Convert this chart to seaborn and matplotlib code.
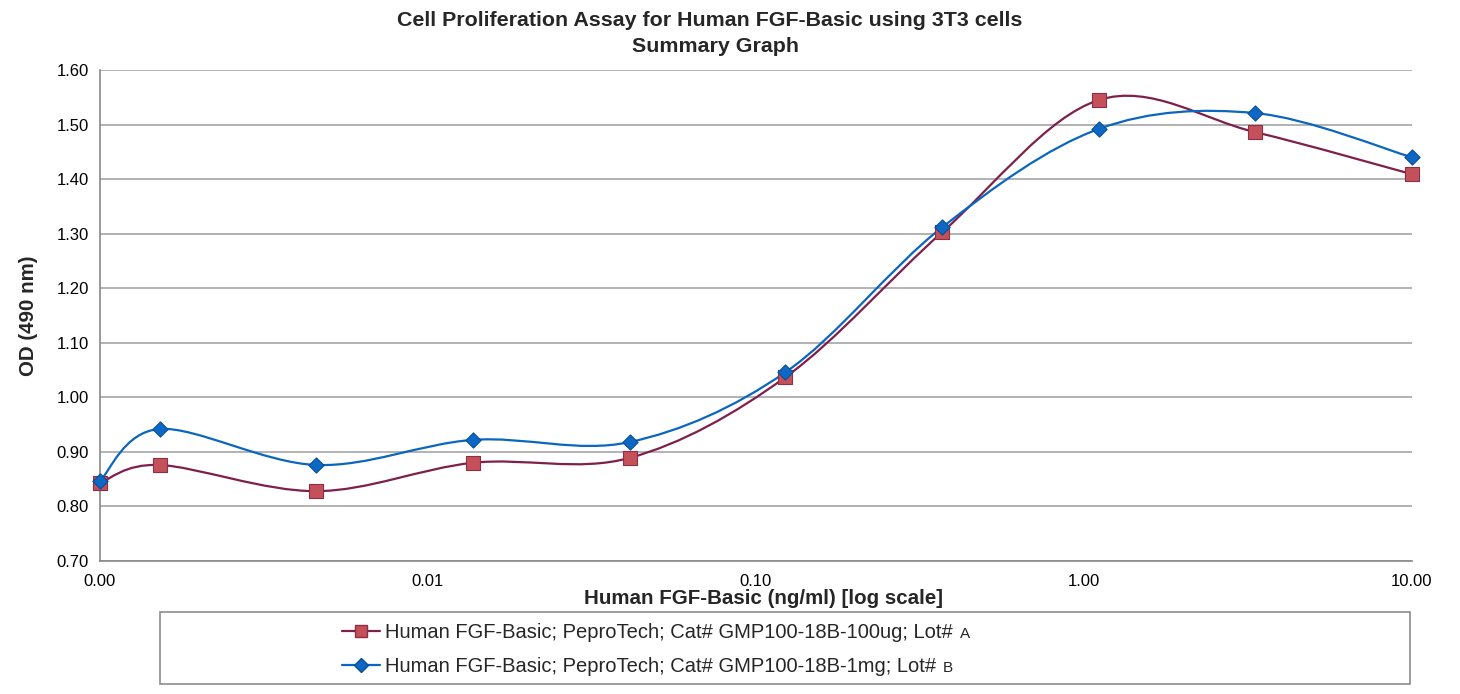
import numpy as np
import pandas as pd
import matplotlib
matplotlib.use("Agg")
import matplotlib.pyplot as plt
import seaborn as sns
from matplotlib.path import Path
from matplotlib.patches import PathPatch, Rectangle
from matplotlib.lines import Line2D

# Dados
conc = [0.001, 0.00152, 0.00457, 0.0137, 0.0412, 0.123, 0.370, 1.11, 3.33, 10.0]
od_100ug = [0.843, 0.876, 0.828, 0.880, 0.889, 1.037, 1.303, 1.545, 1.486, 1.409]
od_1mg = [0.847, 0.942, 0.876, 0.922, 0.918, 1.046, 1.312, 1.492, 1.521, 1.440]

series_names = ["Human FGF-Basic; PeproTech; Cat# GMP100-18B-100ug; Lot# ",
                "Human FGF-Basic; PeproTech; Cat# GMP100-18B-1mg; Lot# "]
lots = ["A", "B"]
xticks = [0.001, 0.01, 0.1, 1, 10]
xticklabels = ["0.00", "0.01", "0.10", "1.00", "10.00"]
yticks = [0.70, 0.80, 0.90, 1.00, 1.10, 1.20, 1.30, 1.40, 1.50, 1.60]

LINE_COLORS = ["#7E1F4C", "#0A66BE"]
FACE_COLORS = ["#C4505A", "#0C68C4"]
EDGE_COLORS = ["#8E2F45", "#0A4F96"]
MARKERS = ["s", "D"]
SIZES = [100, 60]

df = pd.DataFrame({
    "conc": conc * 2,
    "od": od_100ug + od_1mg,
    "serie": [series_names[0]] * len(conc) + [series_names[1]] * len(conc),
})

sns.set_theme(style="white")
plt.rcParams['font.family'] = ['Liberation Sans', 'DejaVu Sans']

fig = plt.figure(figsize=(14.6, 6.94), dpi=100)
ax = fig.add_axes([100 / 1460, 1 - 561 / 694, 1312 / 1460, 491 / 694])
ax.set_xscale("log")
ax.set_xlim(0.001, 10)
ax.set_ylim(0.7, 1.6)


def curva_suave(xs, ys, t=1 / 6):
    # spline tipo Excel: Bezier cúbica com tangentes Catmull-Rom (em log10 x)
    lx = np.log10(xs)
    ys = np.asarray(ys)
    n = len(lx)
    verts = [(xs[0], ys[0])]
    codes = [Path.MOVETO]
    for i in range(n - 1):
        i0 = max(i - 1, 0)
        i3 = min(i + 2, n - 1)
        c1 = (lx[i] + (lx[i + 1] - lx[i0]) * t, ys[i] + (ys[i + 1] - ys[i0]) * t)
        c2 = (lx[i + 1] - (lx[i3] - lx[i]) * t, ys[i + 1] - (ys[i3] - ys[i]) * t)
        verts += [(10 ** c1[0], c1[1]), (10 ** c2[0], c2[1]), (xs[i + 1], ys[i + 1])]
        codes += [Path.CURVE4] * 3
    return Path(verts, codes)


for k, nome in enumerate(series_names):
    sub = df[df["serie"] == nome]
    patch = PathPatch(curva_suave(sub["conc"].values, sub["od"].values),
                      facecolor="none", edgecolor=LINE_COLORS[k], lw=1.6, zorder=3)
    ax.add_patch(patch)
    sns.scatterplot(data=sub, x="conc", y="od", marker=MARKERS[k], s=SIZES[k],
                    color=FACE_COLORS[k], edgecolor=EDGE_COLORS[k], linewidth=0.8,
                    ax=ax, zorder=4, legend=False, clip_on=False)

ax.set_xticks(xticks)
ax.set_xticklabels(xticklabels)
ax.xaxis.set_minor_locator(matplotlib.ticker.NullLocator())
ax.set_yticks(yticks)
ax.set_yticklabels([f"{v:.2f}" for v in yticks])
ax.tick_params(axis="both", labelsize=12, colors="#888888", labelcolor="black",
               length=5, width=1.1, direction="out")
ax.tick_params(axis="x", pad=4)
ax.tick_params(axis="y", pad=3)
ax.grid(axis="y", color="#A6A6A6", lw=1.2)
ax.grid(axis="x", visible=False)
for s in ["top", "right"]:
    ax.spines[s].set_visible(False)
for s in ["left", "bottom"]:
    ax.spines[s].set_color("#888888")
    ax.spines[s].set_linewidth(1.2)

ax.set_xlabel("Human FGF-Basic (ng/ml) [log scale]", fontsize=14.8, fontweight="bold")
ax.set_ylabel("OD (490 nm)", fontsize=14.8, fontweight="bold")
ax.xaxis.set_label_coords(664 / 1312, -28 / 491)
ax.yaxis.set_label_coords(-62 / 1312, 0.5)

fig.text(710 / 1460, 1 - 21 / 694, "Cell Proliferation Assay for Human FGF-Basic using 3T3 cells",
         ha="center", va="center", fontsize=15.4, fontweight="bold")
fig.text(715 / 1460, 1 - 46 / 694, "Summary Graph",
         ha="center", va="center", fontsize=15.4, fontweight="bold")

# caixa da legenda
fig.patches.append(Rectangle((160 / 1460, 1 - 684 / 694), 1250 / 1460, 72 / 694,
                             transform=fig.transFigure, facecolor="none",
                             edgecolor="#8C8C8C", lw=1.2))
handles = [Line2D([], [], color=LINE_COLORS[k], lw=1.6, marker=MARKERS[k],
                  markersize=9 if k == 0 else 7, markerfacecolor=FACE_COLORS[k],
                  markeredgecolor=EDGE_COLORS[k]) for k in range(2)]
leg = fig.legend(handles, series_names, loc="upper left",
                 bbox_to_anchor=(332 / 1460, 1 - 613 / 694), frameon=False,
                 fontsize=14.5, handlelength=1.9, handletextpad=0.25, labelspacing=0.75,
                 borderpad=0)

fig.canvas.draw()
renderer = fig.canvas.get_renderer()
W, H = fig.bbox.width, fig.bbox.height
for txt, lot in zip(leg.get_texts(), lots):
    bb = txt.get_window_extent(renderer)
    _, _, desc = renderer.get_text_width_height_descent("lp", txt.get_fontproperties(), ismath=False)
    fig.text((bb.x1 + 1) / W, (bb.y0 + desc) / H, lot, ha="left", va="baseline", fontsize=11)

fig.savefig("out.png", dpi=100)
